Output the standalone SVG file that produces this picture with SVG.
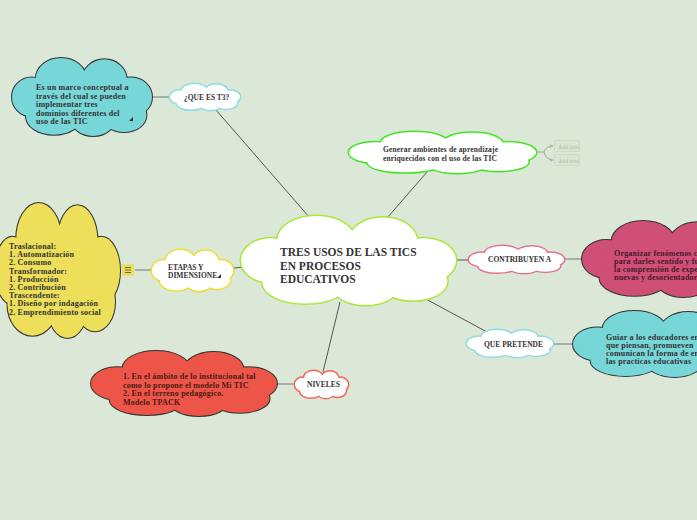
<svg xmlns="http://www.w3.org/2000/svg" width="697" height="520" viewBox="0 0 697 520">
<style>
.t{font-family:"Liberation Serif","DejaVu Serif",serif;font-weight:bold;fill:#333;}
.s{font-size:8px;letter-spacing:0.2px;}
.ln{stroke:#555;stroke-width:1;fill:none;}
.lg{stroke:#999;stroke-width:1.5;fill:none;}
.cl ellipse{vector-effect:non-scaling-stroke;}
</style>
<defs>
<g id="cl" class="cl">
<ellipse cx="35" cy="16" rx="18" ry="16"/>
<ellipse cx="66" cy="17" rx="16" ry="16"/>
<ellipse cx="14" cy="30" rx="14" ry="15"/>
<ellipse cx="85" cy="30" rx="15" ry="15"/>
<ellipse cx="30" cy="45" rx="20" ry="14"/>
<ellipse cx="58" cy="46" rx="16" ry="14"/>
<ellipse cx="80" cy="44" rx="16" ry="13"/>
<ellipse cx="50" cy="30" rx="40" ry="20"/>
</g>
<marker id="ah" viewBox="0 0 6 6" refX="5" refY="3" markerWidth="4" markerHeight="4" orient="auto"><path d="M0,0 L6,3 L0,6 z" fill="#aab8a6"/></marker>
</defs>
<rect width="697" height="520" fill="#dce8d7"/>

<g id="connectors">
<path class="ln" d="M216,110 L310,218"/>
<path class="ln" d="M427,172 L387,218"/>
<path class="ln" d="M456,260 L469,260"/>
<path class="ln" d="M424,298 L487,332"/>
<path class="ln" d="M340,302 L323,372"/>
<path class="ln" d="M233,268 L258,266"/>
<path class="lg" d="M152,97 L170,97"/>
<path class="lg" d="M564,259 L582,259"/>
<path class="lg" d="M553,344 L573,344"/>
<path class="lg" d="M295,384 L276,384"/>
<path class="lg" d="M152,270 L135,270"/>
<path d="M536,152 L544,152 Q546,160 553,160" stroke="#9aa896" stroke-width="1" fill="none" marker-end="url(#ah)"/>
<path d="M544,152 Q546,146 553,146" stroke="#9aa896" stroke-width="1" fill="none" marker-end="url(#ah)"/>
</g>

<g id="central">
<use href="#cl" transform="translate(241,216) scale(2.15,1.483)" fill="#fff" stroke="#aae83c" stroke-width="3"/>
<use href="#cl" transform="translate(241,216) scale(2.15,1.483)" fill="#fff" stroke="none"/>
<text class="t" font-size="11.5" x="280" y="256">TRES USOS DE LAS TICS</text>
<text class="t" font-size="11.5" x="280" y="270">EN PROCESOS</text>
<text class="t" font-size="11.5" x="280" y="283">EDUCATIVOS</text>
</g>

<g id="que-es">
<use href="#cl" transform="translate(170,84) scale(0.7,0.433)" fill="#fff" stroke="#8ddde0" stroke-width="3"/>
<use href="#cl" transform="translate(170,84) scale(0.7,0.433)" fill="#fff" stroke="none"/>
<text class="t" font-size="7.5" x="184" y="100">¿QUE ES T3?</text>
</g>

<g id="marco">
<use href="#cl" transform="translate(12,58) scale(1.4,1.3)" fill="#77d6d8" stroke="#333" stroke-width="2"/>
<use href="#cl" transform="translate(12,58) scale(1.4,1.3)" fill="#77d6d8" stroke="none"/>
<text class="t s" x="36" y="90">Es un marco conceptual a</text>
<text class="t s" x="36" y="98.5">través del cual se pueden</text>
<text class="t s" x="36" y="107">implementar tres</text>
<text class="t s" x="36" y="115.5">dominios diferentes del</text>
<text class="t s" x="36" y="124">uso de las TIC</text>
<path d="M133,117 L133,121 L129,121 z" fill="#333"/>
</g>

<g id="generar">
<use href="#cl" transform="translate(349,132) scale(1.87,0.683)" fill="#fff" stroke="#44e422" stroke-width="3"/>
<use href="#cl" transform="translate(349,132) scale(1.87,0.683)" fill="#fff" stroke="none"/>
<text class="t" font-size="7.5" x="383" y="152" letter-spacing="0.15">Generar ambientes de aprendizaje</text>
<text class="t" font-size="7.5" x="383" y="160.5" letter-spacing="0.15">enriquecidos con el uso de las TIC</text>
</g>

<g id="add1">
<rect x="554.5" y="140.5" width="25" height="11" rx="1.5" fill="#d9e6d3" stroke="#ccdac6"/>
<text x="558" y="148.5" font-family="Liberation Serif,serif" font-size="6" fill="#b0bcaa">Add text</text>
</g>
<g id="add2">
<rect x="554.5" y="154.5" width="25" height="11" rx="1.5" fill="#d9e6d3" stroke="#ccdac6"/>
<text x="558" y="162.5" font-family="Liberation Serif,serif" font-size="6" fill="#b0bcaa">Add text</text>
</g>

<g id="contribuyen">
<use href="#cl" transform="translate(469,246) scale(0.95,0.45)" fill="#fff" stroke="#e27595" stroke-width="3"/>
<use href="#cl" transform="translate(469,246) scale(0.95,0.45)" fill="#fff" stroke="none"/>
<text class="t" font-size="7.5" x="488" y="262">CONTRIBUYEN A</text>
</g>

<g id="organizar">
<use href="#cl" transform="translate(582,221) scale(1.75,1.267)" fill="#cf4f77" stroke="#333" stroke-width="2"/>
<use href="#cl" transform="translate(582,221) scale(1.75,1.267)" fill="#cf4f77" stroke="none"/>
<text class="t s" x="614" y="256" style="fill:#4a1a2c">Organizar fenómenos c</text>
<text class="t s" x="614" y="264" style="fill:#4a1a2c">para darles sentido y fu</text>
<text class="t s" x="614" y="272" style="fill:#4a1a2c">la comprensión de expe</text>
<text class="t s" x="614" y="280" style="fill:#4a1a2c">nuevas y desorientador</text>
</g>

<g id="pretende">
<use href="#cl" transform="translate(467,330) scale(0.86,0.45)" fill="#fff" stroke="#8ddde0" stroke-width="3"/>
<use href="#cl" transform="translate(467,330) scale(0.86,0.45)" fill="#fff" stroke="none"/>
<text class="t" font-size="7.5" x="484" y="347">QUE PRETENDE</text>
</g>

<g id="guiar">
<use href="#cl" transform="translate(573,311) scale(1.75,1.1)" fill="#77d6d8" stroke="#333" stroke-width="2"/>
<use href="#cl" transform="translate(573,311) scale(1.75,1.1)" fill="#77d6d8" stroke="none"/>
<text class="t s" x="606" y="340">Guiar a los educadores en</text>
<text class="t s" x="606" y="348">que piensan, promueven</text>
<text class="t s" x="606" y="356">comunican la forma de en</text>
<text class="t s" x="606" y="364">las practicas educativas</text>
</g>

<g id="niveles">
<use href="#cl" transform="translate(295,371) scale(0.53,0.45)" fill="#fff" stroke="#ee6655" stroke-width="3"/>
<use href="#cl" transform="translate(295,371) scale(0.53,0.45)" fill="#fff" stroke="none"/>
<text class="t" font-size="7.5" x="307" y="387">NIVELES</text>
</g>

<g id="ambito">
<use href="#cl" transform="translate(91,351) scale(1.86,1.083)" fill="#ec5548" stroke="#333" stroke-width="2"/>
<use href="#cl" transform="translate(91,351) scale(1.86,1.083)" fill="#ec5548" stroke="none"/>
<text class="t s" x="123" y="379" style="fill:#4a1a16">1. En el ámbito de lo institucional tal</text>
<text class="t s" x="123" y="387.5" style="fill:#4a1a16">como lo propone el modelo Mi TIC</text>
<text class="t s" x="123" y="396" style="fill:#4a1a16">2. En el terreno pedagógico.</text>
<text class="t s" x="123" y="404.5" style="fill:#4a1a16">Modelo TPACK</text>
</g>

<g id="etapas">
<use href="#cl" transform="translate(152,250) scale(0.81,0.683)" fill="#fff" stroke="#eedd33" stroke-width="3"/>
<use href="#cl" transform="translate(152,250) scale(0.81,0.683)" fill="#fff" stroke="none"/>
<text class="t" font-size="7.5" x="168" y="270">ETAPAS Y</text>
<text class="t" font-size="7.5" x="168" y="278">DIMENSIONE</text>
<path d="M221,274 L221,278 L217,278 z" fill="#333"/>
</g>

<g id="traslacional">
<use href="#cl" transform="translate(-5,203) scale(1.25,2.25)" fill="#eddf5a" stroke="#333" stroke-width="2"/>
<use href="#cl" transform="translate(-5,203) scale(1.25,2.25)" fill="#eddf5a" stroke="none"/>
<text class="t s" x="9" y="249">Traslacional:</text>
<text class="t s" x="9" y="257.2">1. Automatización</text>
<text class="t s" x="9" y="265.4">2. Consumo</text>
<text class="t s" x="9" y="273.6">Transformador:</text>
<text class="t s" x="9" y="281.8">1. Producción</text>
<text class="t s" x="9" y="290">2. Contribución</text>
<text class="t s" x="9" y="298.2">Trascendente:</text>
<text class="t s" x="9" y="306.4">1. Diseño por indagación</text>
<text class="t s" x="9" y="314.6">2. Emprendimiento social</text>
<rect x="122" y="264" width="12" height="12" rx="1.5" fill="#eddf5a"/>
<path d="M125,267.5 H131 M125,270 H131 M125,272.5 H131" stroke="#555" stroke-width="0.9"/>
</g>
</svg>
